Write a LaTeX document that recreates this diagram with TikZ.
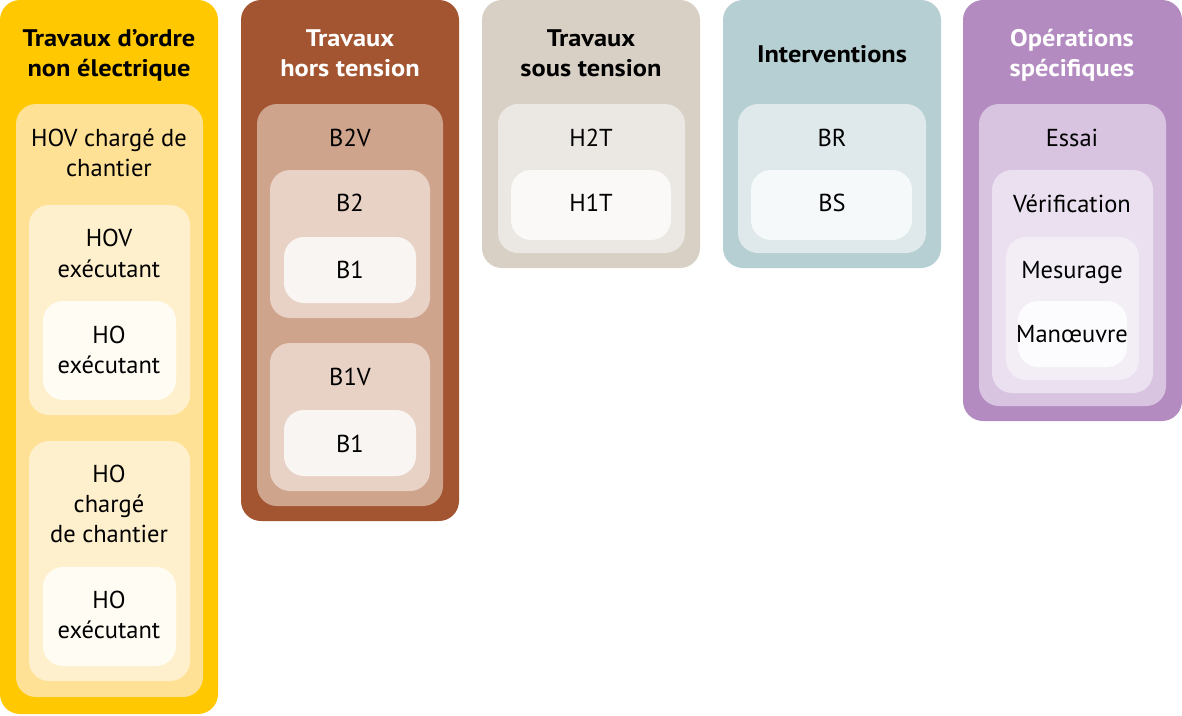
\documentclass[tikz,border=0pt]{standalone}
\usepackage{fontspec}
\setmainfont{PT Sans}[BoldFeatures={FakeStretch=1.1}]
\definecolor{ye0}{HTML}{FFC800}
\definecolor{ye1}{HTML}{FFE196}
\definecolor{ye2}{HTML}{FFF0CD}
\definecolor{ye3}{HTML}{FFFCF4}
\definecolor{br0}{HTML}{A35532}
\definecolor{br1}{HTML}{CFA48C}
\definecolor{br2}{HTML}{E8D2C6}
\definecolor{br3}{HTML}{F9F5F2}
\definecolor{bg0}{HTML}{D8CFC5}
\definecolor{bg1}{HTML}{EBE7E2}
\definecolor{bg2}{HTML}{FAF9F7}
\definecolor{tl0}{HTML}{B6CFD2}
\definecolor{tl1}{HTML}{DFE8EA}
\definecolor{tl2}{HTML}{F6F9F9}
\definecolor{pu0}{HTML}{B38BC1}
\definecolor{pu1}{HTML}{D8C4E0}
\definecolor{pu2}{HTML}{EAE0F0}
\definecolor{pu3}{HTML}{F3EEF6}
\definecolor{pu4}{HTML}{FCFBFD}
\tikzset{
  bx/.style={draw=none, rounded corners=20pt, inner sep=0pt, outer sep=0pt, anchor=north west},
  lbl/.style={anchor=base, inner sep=0pt, font=\fontsize{24.5}{30}\selectfont},
  ttl/.style={lbl, font=\fontsize{24}{30}\selectfont\bfseries},
}
\newcommand{\boxat}[6]{% name, color, x1, y1, x2, y2
  \node[bx, fill=#2, minimum width={(#5-#3)*1pt}, minimum height={(#6-#4)*1pt}] (#1) at (#3,#4) {};}
\begin{document}
\begin{tikzpicture}[x=1pt,y=-1pt]
\useasboundingbox (0,0) rectangle (1182,715);
% column 1
\boxat{c1}{ye0}{0}{0}{218}{714}
\boxat{c1a}{ye1}{16}{104}{203}{697}
\boxat{c1b}{ye2}{29}{205}{190}{415}
\boxat{c1c}{ye3}{43}{301}{176}{400}
\boxat{c1d}{ye2}{29}{441}{190}{681}
\boxat{c1e}{ye3}{43}{567}{176}{666}
% column 2
\boxat{c2}{br0}{241}{0}{459}{521}
\boxat{c2a}{br1}{257}{104}{443}{506}
\boxat{c2b}{br2}{270}{170}{430}{318}
\boxat{c2c}{br3}{284}{237}{416}{303}
\boxat{c2d}{br2}{270}{343}{430}{491}
\boxat{c2e}{br3}{284}{410}{416}{476}
% column 3
\boxat{c3}{bg0}{482}{0}{700}{268}
\boxat{c3a}{bg1}{498}{104}{685}{253}
\boxat{c3b}{bg2}{511}{170}{671}{240}
% column 4
\boxat{c4}{tl0}{723}{0}{941}{268}
\boxat{c4a}{tl1}{738}{104}{926}{253}
\boxat{c4b}{tl2}{751}{170}{912}{240}
% column 5
\boxat{c5}{pu0}{963}{0}{1182}{421}
\boxat{c5a}{pu1}{979}{104}{1166}{406}
\boxat{c5b}{pu2}{992}{170}{1153}{393}
\boxat{c5c}{pu3}{1006}{237}{1139}{380}
\boxat{c5d}{pu4}{1018}{301}{1127}{367}
% titles
\node[ttl] (t1a) at (109,46) {Travaux d’ordre};
\node[ttl] (t1b) at (109,76) {non électrique};
\node[ttl, text=white] (t2a) at (350,46) {Travaux};
\node[ttl, text=white] (t2b) at (350,76) {hors tension};
\node[ttl] (t3a) at (591,46) {Travaux};
\node[ttl] (t3b) at (591,76) {sous tension};
\node[ttl] (t4a) at (832,62) {Interventions};
\node[ttl, text=white] (t5a) at (1072,46) {Opérations};
\node[ttl, text=white] (t5b) at (1072,76) {spécifiques};
% column 1 labels
\node[lbl] (l1a) at (109,146) {HOV chargé de};
\node[lbl] (l1b) at (109,176) {chantier};
\node[lbl] (l1c) at (109,246) {HOV};
\node[lbl] (l1d) at (109,277) {exécutant};
\node[lbl] (l1e) at (109,343) {HO};
\node[lbl] (l1f) at (109,373) {exécutant};
\node[lbl] (l1g) at (109,482) {HO};
\node[lbl] (l1h) at (109,512) {chargé};
\node[lbl] (l1i) at (109,542) {de chantier};
\node[lbl] (l1j) at (109,608) {HO};
\node[lbl] (l1k) at (109,638) {exécutant};
% column 2 labels
\node[lbl] (l2a) at (350,146) {B2V};
\node[lbl] (l2b) at (350,211) {B2};
\node[lbl] (l2c) at (350,278) {B1};
\node[lbl] (l2d) at (350,385) {B1V};
\node[lbl] (l2e) at (350,452) {B1};
% column 3 labels
\node[lbl] (l3a) at (591,146) {H2T};
\node[lbl] (l3b) at (591,211) {H1T};
% column 4 labels
\node[lbl] (l4a) at (832,146) {BR};
\node[lbl] (l4b) at (832,211) {BS};
% column 5 labels
\node[lbl] (l5a) at (1072,146) {Essai};
\node[lbl] (l5b) at (1072,212) {Vérification};
\node[lbl] (l5c) at (1072,278) {Mesurage};
\node[lbl] (l5d) at (1072,342) {Manœuvre};
\end{tikzpicture}
\end{document}
